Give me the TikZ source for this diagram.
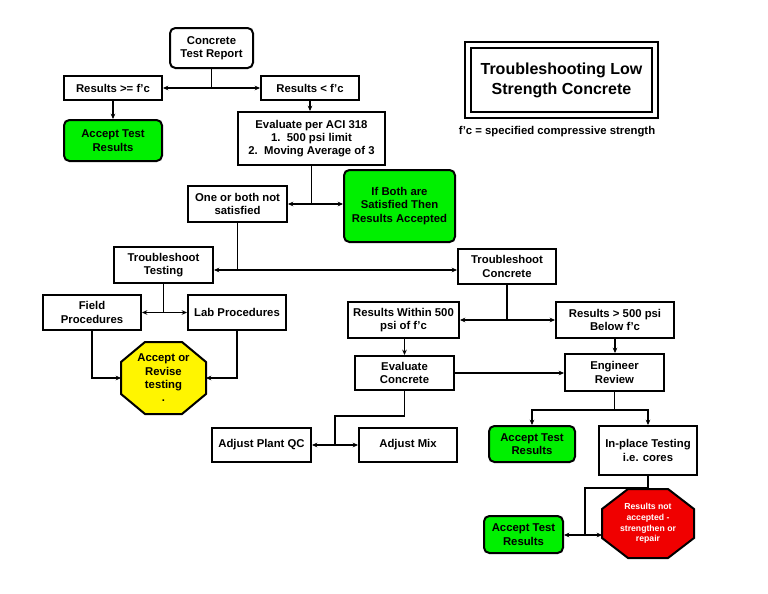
\documentclass[tikz,border=0pt]{standalone}
\usepackage{fontspec}
\setmainfont{Liberation Sans}
\usetikzlibrary{arrows.meta,calc}
\definecolor{grn}{RGB}{0,240,0}
\definecolor{yel}{RGB}{255,245,0}
\definecolor{rd}{RGB}{240,0,0}
\begin{document}
\begin{tikzpicture}[x=0.75pt,y=-0.75pt,
  sz/.style 2 args={minimum width=#1*0.75pt,minimum height=#2*0.75pt},
  bx/.style={draw,line width=1.5pt,inner sep=1pt,align=center,font=\bfseries\fontsize{8.5}{10}\selectfont},
  rbx/.style={bx,rounded corners=4pt},
  gbx/.style={rbx,fill=grn},
  ar/.style={line width=0.9pt,-{Stealth[length=4pt,width=3.5pt]}},
  ln/.style={line width=0.9pt}]
\useasboundingbox (0,0) rectangle (768,593);
\node[rbx,sz={83}{40}] (ctr) at (211.5,48) {Concrete\\Test Report};
\node[bx,sz={98}{24}] (rge) at (113,88) {Results >= f'c};
\node[bx,sz={98}{24}] (rlt) at (310,88) {Results < f'c};
\node[gbx,sz={98}{41}] (acc1) at (113,140.5) {Accept Test\\Results};
\node[bx,sz={147}{53}] (eval) at (311.5,138.5) {Evaluate per ACI 318\\1.\ \ 500 psi limit\\2.\ \ Moving Average of 3};
\node[bx,sz={99}{36}] (one) at (237.5,204) {One or both not\\satisfied};
\node[gbx,sz={111}{72}] (both) at (399.5,206) {If Both are\\Satisfied Then\\Results Accepted};
\node[bx,sz={99}{36}] (tt) at (163.5,265) {Troubleshoot\\Testing};
\node[bx,sz={98}{35}] (tc) at (507,266.5) {Troubleshoot\\Concrete};
\node[bx,sz={98}{35}] (field) at (92,312.5) {Field\\Procedures};
\node[bx,sz={98}{35}] (lab) at (237,312.5) {Lab Procedures};
\node[bx,draw=none,sz={83}{70}] (yo) at (163.5,378) {Accept or\\Revise\\testing\\.};
\node[bx,sz={111}{36}] (within) at (403.5,320) {Results Within 500\\psi of f'c};
\node[bx,sz={118}{36}] (gt) at (615,320) {Results > 500 psi\\Below f'c};
\node[bx,sz={99}{34}] (evc) at (404.5,373) {Evaluate\\Concrete};
\node[bx,sz={99}{37}] (eng) at (614.5,372.5) {Engineer\\Review};
\node[bx,sz={99}{34}] (pqc) at (261.5,445) {Adjust Plant QC};
\node[bx,sz={98}{34}] (mix) at (408,445) {Adjust Mix};
\node[gbx,sz={86}{36}] (acc2) at (532,444) {Accept Test\\Results};
\node[bx,sz={98}{49}] (inpl) at (648,450.5) {In-place Testing\\i.e. cores};
\node[gbx,sz={79}{37}] (acc3) at (523.5,534.5) {Accept Test\\Results};
\node[bx,draw=none,sz={90}{67},text=white,font=\bfseries\fontsize{6.5}{8}\selectfont] (ro) at (648,523.5) {Results not\\accepted -\\strengthen or\\repair};
% octagons
\begin{scope}[on background layer/.style={}]
\end{scope}
\fill[yel] ($(yo.north west)+(24,0)$) -- ($(yo.north east)+(-24,0)$) -- ($(yo.north east)+(0,20)$) -- ($(yo.south east)+(0,-20)$) -- ($(yo.south east)+(-24,0)$) -- ($(yo.south west)+(24,0)$) -- ($(yo.south west)+(0,-20)$) -- ($(yo.north west)+(0,20)$) -- cycle;
\draw[line width=1.5pt] ($(yo.north west)+(24,0)$) -- ($(yo.north east)+(-24,0)$) -- ($(yo.north east)+(0,20)$) -- ($(yo.south east)+(0,-20)$) -- ($(yo.south east)+(-24,0)$) -- ($(yo.south west)+(24,0)$) -- ($(yo.south west)+(0,-20)$) -- ($(yo.north west)+(0,20)$) -- cycle;
\fill[rd] ($(ro.north west)+(26,0)$) -- ($(ro.north east)+(-26,0)$) -- ($(ro.north east)+(0,20)$) -- ($(ro.south east)+(0,-20)$) -- ($(ro.south east)+(-26,0)$) -- ($(ro.south west)+(26,0)$) -- ($(ro.south west)+(0,-20)$) -- ($(ro.north west)+(0,20)$) -- cycle;
\draw[line width=1.5pt] ($(ro.north west)+(26,0)$) -- ($(ro.north east)+(-26,0)$) -- ($(ro.north east)+(0,20)$) -- ($(ro.south east)+(0,-20)$) -- ($(ro.south east)+(-26,0)$) -- ($(ro.south west)+(26,0)$) -- ($(ro.south west)+(0,-20)$) -- ($(ro.north west)+(0,20)$) -- cycle;
\node[bx,draw=none,sz={83}{70}] at (yo) {Accept or\\Revise\\testing\\.};
\node[bx,draw=none,sz={90}{67},text=white,font=\bfseries\fontsize{6.5}{8}\selectfont] at (ro) {Results not\\accepted -\\strengthen or\\repair};
% title
\node[draw,line width=1.2pt,double,double distance=3pt,sz={187}{70},align=center,font=\bfseries\fontsize{12}{15}\selectfont] (title) at (561.5,80) {Troubleshooting Low\\Strength Concrete};
\node[font=\bfseries\fontsize{8.5}{10}\selectfont] (note) at (557,132) {f'c = specified compressive strength};
% connectors
\coordinate (j1) at (ctr.south |- rge.east);
\draw[ln] (ctr.south) -- (j1);
\draw[ar] (j1) -- (rge.east);
\draw[ar] (j1) -- (rlt.west);
\draw[ar] (rge.south) -- (acc1.north);
\draw[ar] (rlt.south) -- (rlt.south |- eval.north);
\coordinate (j2) at (eval.south |- one.east);
\draw[ln] (eval.south) -- (j2);
\draw[ar] (j2) -- (one.east);
\draw[ar] (j2) -- (both.west |- j2);
\coordinate (j3) at (one.south |- 0,270);
\draw[ln] (one.south) -- (j3);
\draw[ar] (j3) -- (tt.east |- j3);
\draw[ar] (j3) -- (tc.west |- j3);
\coordinate (j4) at (tt.south |- field.east);
\draw[ln] (tt.south) -- (j4);
\draw[ar] (j4) -- (field.east);
\draw[ar] (j4) -- (lab.west);
\draw[ar] (field.south) |- (yo.west);
\draw[ar] (lab.south) |- (yo.east);
\coordinate (j5) at (tc.south |- within.east);
\draw[ln] (tc.south) -- (j5);
\draw[ar] (j5) -- (within.east);
\draw[ar] (j5) -- (gt.west);
\draw[ar] (within.south -| evc.north) -- (evc.north);
\draw[ar] (gt.south) -- (eng.north -| gt.south);
\draw[ar] (evc.east) -- (eng.west |- evc.east);
\coordinate (j6) at (335,445);
\draw[ln] (evc.south) -- ++(0,25) -| (j6);
\draw[ar] (j6) -- (pqc.east);
\draw[ar] (j6) -- (mix.west);
\coordinate (j7) at (eng.south |- 0,410);
\draw[ln] (eng.south) -- (j7);
\draw[ar] (j7) -| (acc2.north);
\draw[ar] (j7) -| (inpl.north);
\coordinate (j8) at (585,535);
\draw[ln] (inpl.south) -- ++(0,12) -| (j8);
\draw[ar] (j8) -- (acc3.east |- j8);
\draw[ar] (j8) -- (ro.west |- j8);
\end{tikzpicture}
\end{document}
